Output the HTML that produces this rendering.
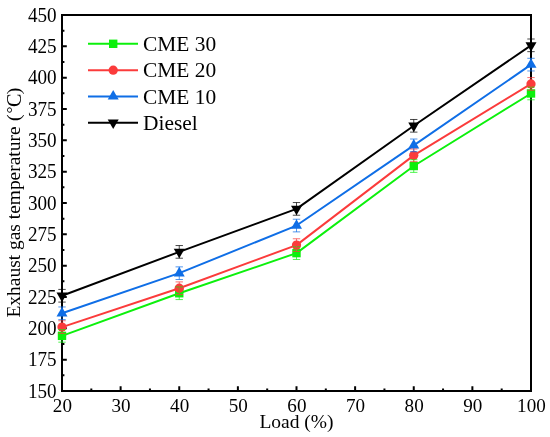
<!DOCTYPE html>
<html lang="en"><head><meta charset="utf-8"><title>Exhaust gas temperature vs Load</title>
<style>html,body{margin:0;padding:0;background:#fff}svg{display:block}</style></head>
<body>
<svg width="550" height="437" viewBox="0 0 550 437" font-family="'Liberation Serif', 'Noto Serif CJK SC', serif" fill="#000">
<rect width="550" height="437" fill="#fff"/>
<rect x="62.0" y="15.0" width="469.0" height="376.0" fill="none" stroke="#000" stroke-width="2"/>
<path d="M62.0 391.00h4.8M62.0 375.33h2.4M62.0 359.67h4.8M62.0 344.00h2.4M62.0 328.33h4.8M62.0 312.67h2.4M62.0 297.00h4.8M62.0 281.33h2.4M62.0 265.67h4.8M62.0 250.00h2.4M62.0 234.33h4.8M62.0 218.67h2.4M62.0 203.00h4.8M62.0 187.33h2.4M62.0 171.67h4.8M62.0 156.00h2.4M62.0 140.33h4.8M62.0 124.67h2.4M62.0 109.00h4.8M62.0 93.33h2.4M62.0 77.67h4.8M62.0 62.00h2.4M62.0 46.33h4.8M62.0 30.67h2.4M62.0 15.00h4.8M62.00 391.0v-4.8M91.31 391.0v-2.4M120.62 391.0v-4.8M149.94 391.0v-2.4M179.25 391.0v-4.8M208.56 391.0v-2.4M237.88 391.0v-4.8M267.19 391.0v-2.4M296.50 391.0v-4.8M325.81 391.0v-2.4M355.12 391.0v-4.8M384.44 391.0v-2.4M413.75 391.0v-4.8M443.06 391.0v-2.4M472.38 391.0v-4.8M501.69 391.0v-2.4M531.00 391.0v-4.8" stroke="#000" stroke-width="2" fill="none"/>
<polyline points="62.00,335.85 179.25,293.24 296.50,253.13 413.75,166.03 531.00,93.46" fill="none" stroke="#0cf00c" stroke-width="1.95" stroke-linejoin="round"/>
<rect x="57.80" y="331.65" width="8.4" height="8.4" fill="#0cf00c"/>
<rect x="175.05" y="289.04" width="8.4" height="8.4" fill="#0cf00c"/>
<rect x="292.30" y="248.93" width="8.4" height="8.4" fill="#0cf00c"/>
<rect x="409.55" y="161.83" width="8.4" height="8.4" fill="#0cf00c"/>
<rect x="526.80" y="89.26" width="8.4" height="8.4" fill="#0cf00c"/>
<polyline points="62.00,327.08 179.25,288.23 296.50,245.11 413.75,155.37 531.00,83.93" fill="none" stroke="#fb3b3b" stroke-width="1.95" stroke-linejoin="round"/>
<circle cx="62.00" cy="327.08" r="4.65" fill="#fb3b3b"/>
<circle cx="179.25" cy="288.23" r="4.65" fill="#fb3b3b"/>
<circle cx="296.50" cy="245.11" r="4.65" fill="#fb3b3b"/>
<circle cx="413.75" cy="155.37" r="4.65" fill="#fb3b3b"/>
<circle cx="531.00" cy="83.93" r="4.65" fill="#fb3b3b"/>
<polyline points="62.00,313.29 179.25,273.19 296.50,225.56 413.75,145.35 531.00,64.63" fill="none" stroke="#0f6ee6" stroke-width="1.95" stroke-linejoin="round"/>
<polygon points="62.00,306.89 67.50,316.49 56.50,316.49" fill="#0f6ee6"/>
<polygon points="179.25,266.79 184.75,276.39 173.75,276.39" fill="#0f6ee6"/>
<polygon points="296.50,219.16 302.00,228.76 291.00,228.76" fill="#0f6ee6"/>
<polygon points="413.75,138.95 419.25,148.55 408.25,148.55" fill="#0f6ee6"/>
<polygon points="531.00,58.23 536.50,67.83 525.50,67.83" fill="#0f6ee6"/>
<polyline points="62.00,295.75 179.25,251.88 296.50,208.89 413.75,125.79 531.00,45.33" fill="none" stroke="#000000" stroke-width="1.95" stroke-linejoin="round"/>
<polygon points="62.00,302.15 67.50,292.55 56.50,292.55" fill="#000000"/>
<polygon points="179.25,258.28 184.75,248.68 173.75,248.68" fill="#000000"/>
<polygon points="296.50,215.29 302.00,205.69 291.00,205.69" fill="#000000"/>
<polygon points="413.75,132.19 419.25,122.59 408.25,122.59" fill="#000000"/>
<polygon points="531.00,51.73 536.50,42.13 525.50,42.13" fill="#000000"/>
<path d="M62.00 329.52V342.18M58.30 329.52h7.4M58.30 342.18h7.4M179.25 286.91V299.57M175.55 286.91h7.4M175.55 299.57h7.4M296.50 246.80V259.46M292.80 246.80h7.4M292.80 259.46h7.4M413.75 159.70V172.36M410.05 159.70h7.4M410.05 172.36h7.4M531.00 87.13V99.79M527.30 87.13h7.4M527.30 99.79h7.4" stroke="#0cf00c" stroke-width="1" fill="none" opacity="0.72"/>
<path d="M62.00 320.75V333.41M58.30 320.75h7.4M58.30 333.41h7.4M179.25 281.90V294.56M175.55 281.90h7.4M175.55 294.56h7.4M296.50 238.78V251.44M292.80 238.78h7.4M292.80 251.44h7.4M413.75 149.04V161.70M410.05 149.04h7.4M410.05 161.70h7.4M531.00 77.60V90.26M527.30 77.60h7.4M527.30 90.26h7.4" stroke="#fb3b3b" stroke-width="1" fill="none" opacity="0.72"/>
<path d="M62.00 306.96V319.62M58.30 306.96h7.4M58.30 319.62h7.4M179.25 266.86V279.52M175.55 266.86h7.4M175.55 279.52h7.4M296.50 219.23V231.89M292.80 219.23h7.4M292.80 231.89h7.4M413.75 139.02V151.68M410.05 139.02h7.4M410.05 151.68h7.4M531.00 58.30V70.96M527.30 58.30h7.4M527.30 70.96h7.4" stroke="#0f6ee6" stroke-width="1" fill="none" opacity="0.72"/>
<path d="M62.00 289.42V302.08M58.30 289.42h7.4M58.30 302.08h7.4M179.25 245.55V258.21M175.55 245.55h7.4M175.55 258.21h7.4M296.50 202.56V215.22M292.80 202.56h7.4M292.80 215.22h7.4M413.75 119.47V132.12M410.05 119.47h7.4M410.05 132.12h7.4M531.00 39.00V51.66M527.30 39.00h7.4M527.30 51.66h7.4" stroke="#000000" stroke-width="1" fill="none" opacity="0.72"/>
<g font-size="19.9" text-anchor="end">
<text transform="translate(56.6 397.60) scale(0.962 1)">150</text>
<text transform="translate(56.6 366.27) scale(0.962 1)">175</text>
<text transform="translate(56.6 334.93) scale(0.962 1)">200</text>
<text transform="translate(56.6 303.60) scale(0.962 1)">225</text>
<text transform="translate(56.6 272.27) scale(0.962 1)">250</text>
<text transform="translate(56.6 240.93) scale(0.962 1)">275</text>
<text transform="translate(56.6 209.60) scale(0.962 1)">300</text>
<text transform="translate(56.6 178.27) scale(0.962 1)">325</text>
<text transform="translate(56.6 146.93) scale(0.962 1)">350</text>
<text transform="translate(56.6 115.60) scale(0.962 1)">375</text>
<text transform="translate(56.6 84.27) scale(0.962 1)">400</text>
<text transform="translate(56.6 52.93) scale(0.962 1)">425</text>
<text transform="translate(56.6 21.60) scale(0.962 1)">450</text>
</g>
<g font-size="19.1" text-anchor="middle">
<text x="62.40" y="411.7">20</text>
<text x="121.03" y="411.7">30</text>
<text x="179.65" y="411.7">40</text>
<text x="238.28" y="411.7">50</text>
<text x="296.90" y="411.7">60</text>
<text x="355.52" y="411.7">70</text>
<text x="414.15" y="411.7">80</text>
<text x="472.77" y="411.7">90</text>
<text x="531.40" y="411.7">100</text>
</g>
<text x="296.5" y="428.3" font-size="19.5" text-anchor="middle">Load (%)</text>
<text transform="translate(20.4 317) rotate(-90)" font-size="19.45"><tspan x="-0.5">Exhaust gas temperature </tspan><tspan x="196.0" dy="-0.4" font-size="19.6">(</tspan><tspan x="203.5" dy="-1.6" font-size="17.5">°</tspan><tspan x="210.1" dy="2.8" font-size="20.2">C</tspan><tspan x="222.8" dy="-1.2" font-size="19.6">)</tspan></text>
<path d="M88 43.8H138" stroke="#0cf00c" stroke-width="1.95"/>
<rect x="109.00" y="39.60" width="8.4" height="8.4" fill="#0cf00c"/>
<text transform="translate(143.0 50.90) scale(1.04 1)" font-size="20.6">CME 30</text>
<path d="M88 70.2H138" stroke="#fb3b3b" stroke-width="1.95"/>
<circle cx="113.20" cy="70.20" r="4.65" fill="#fb3b3b"/>
<text transform="translate(143.0 77.30) scale(1.04 1)" font-size="20.6">CME 20</text>
<path d="M88 96.4H138" stroke="#0f6ee6" stroke-width="1.95"/>
<polygon points="113.20,90.00 118.70,99.60 107.70,99.60" fill="#0f6ee6"/>
<text transform="translate(143.0 103.50) scale(1.04 1)" font-size="20.6">CME 10</text>
<path d="M88 122.7H138" stroke="#000000" stroke-width="1.95"/>
<polygon points="113.20,129.10 118.70,119.50 107.70,119.50" fill="#000000"/>
<text transform="translate(143.0 129.80) scale(1.04 1)" font-size="20.6">Diesel</text>
</svg>
</body></html>
